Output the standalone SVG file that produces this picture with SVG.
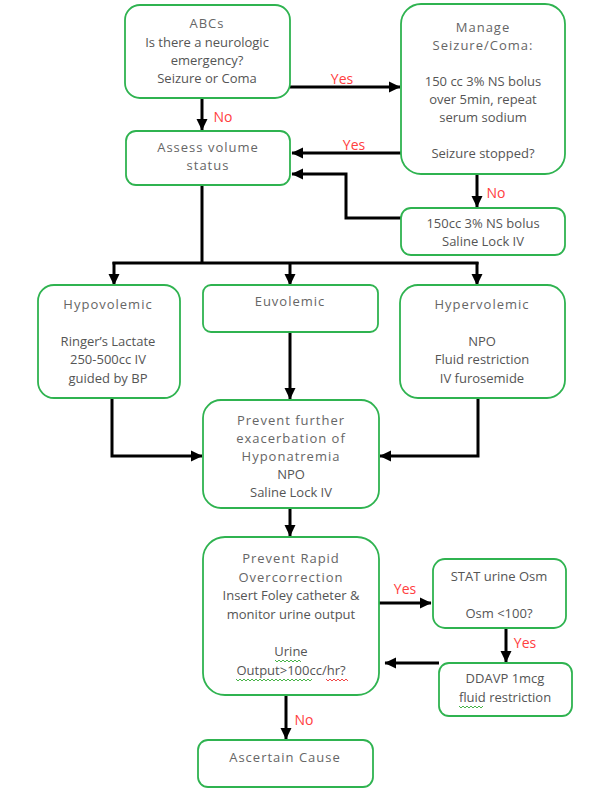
<svg xmlns="http://www.w3.org/2000/svg" width="600" height="792" viewBox="0 0 600 792">
<defs>
<marker id="ah" markerUnits="userSpaceOnUse" markerWidth="12" markerHeight="12" viewBox="0 0 12 12" refX="11" refY="6" orient="auto">
<path d="M0,0.5 L11.5,6 L0,11.5 Z" fill="#000"/>
</marker>
<style>
.box{fill:#fff;stroke:#2fb350;stroke-width:1.8}
.t{font-family:"Open Sans","DejaVu Sans",sans-serif;font-size:13px;fill:#555;text-anchor:middle}
.h{letter-spacing:1px;fill:#666}
.lbl{font-family:"Open Sans","DejaVu Sans",sans-serif;font-size:14px;fill:#ff4040;text-anchor:middle}
.c{fill:none;stroke:#000;stroke-width:3;marker-end:url(#ah)}
.sq{fill:none;stroke-width:0.9}
</style>
</defs>
<rect width="600" height="792" fill="#fff"/>

<g id="connectors">
<path class="c" d="M290,87 H400"/>
<path class="c" d="M202,98 V130"/>
<path class="c" d="M401,153 H292"/>
<path class="c" d="M477,174 V207"/>
<path class="c" d="M401,218 H346 V174 H292"/>
<path d="M202,185 V263" fill="none" stroke="#000" stroke-width="3"/>
<path d="M112.5,263 H478.5" fill="none" stroke="#000" stroke-width="3"/>
<path class="c" d="M114,262 V285"/>
<path class="c" d="M290,262 V285"/>
<path class="c" d="M477,262 V285"/>
<path class="c" d="M112,398 V456 H202"/>
<path class="c" d="M290,332 V399"/>
<path class="c" d="M478,398 V456 H380"/>
<path class="c" d="M290,508 V536"/>
<path class="c" d="M379,603 H431"/>
<path class="c" d="M506,628 V662"/>
<path class="c" d="M439,663 H385"/>
<path class="c" d="M286,695 V739"/>
<text class="lbl" x="342" y="84">Yes</text>
<text class="lbl" x="223" y="122">No</text>
<text class="lbl" x="354" y="150">Yes</text>
<text class="lbl" x="496" y="198">No</text>
<text class="lbl" x="405" y="594">Yes</text>
<text class="lbl" x="525" y="648">Yes</text>
<text class="lbl" x="304" y="725">No</text>
</g>

<g id="abcs">
<rect class="box" x="125" y="5" width="165" height="93" rx="15"/>
<text class="t h" x="207" y="28">ABCs</text>
<text class="t" x="207" y="47">Is there a neurologic</text>
<text class="t" x="207" y="65">emergency?</text>
<text class="t" x="207" y="83">Seizure or Coma</text>
</g>

<g id="manage">
<rect class="box" x="401" y="4" width="164" height="170" rx="20"/>
<text class="t h" x="483" y="32">Manage</text>
<text class="t h" x="483" y="50">Seizure/Coma:</text>
<text class="t" x="483" y="86">150 cc 3% NS bolus</text>
<text class="t" x="483" y="104">over 5min, repeat</text>
<text class="t" x="483" y="122">serum sodium</text>
<text class="t" x="483" y="158">Seizure stopped?</text>
</g>

<g id="assess">
<rect class="box" x="126" y="131" width="164" height="54" rx="10"/>
<text class="t h" x="208" y="152">Assess volume</text>
<text class="t h" x="208" y="170">status</text>
</g>

<g id="bolus">
<rect class="box" x="401" y="208" width="164" height="47" rx="10"/>
<text class="t" x="483" y="228">150cc 3% NS bolus</text>
<text class="t" x="483" y="246">Saline Lock IV</text>
</g>

<g id="hypovolemic">
<rect class="box" x="38" y="285" width="142" height="113" rx="16"/>
<text class="t h" x="108" y="309">Hypovolemic</text>
<text class="t" x="108" y="346">Ringer’s Lactate</text>
<text class="t" x="108" y="364">250-500cc IV</text>
<text class="t" x="108" y="383">guided by BP</text>
</g>

<g id="euvolemic">
<rect class="box" x="203" y="285" width="175" height="47" rx="8"/>
<text class="t h" x="290" y="306">Euvolemic</text>
</g>

<g id="hypervolemic">
<rect class="box" x="400" y="285" width="165" height="113" rx="18"/>
<text class="t h" x="482" y="309">Hypervolemic</text>
<text class="t" x="482" y="346">NPO</text>
<text class="t" x="482" y="364">Fluid restriction</text>
<text class="t" x="482" y="383">IV furosemide</text>
</g>

<g id="prevent">
<rect class="box" x="203" y="400" width="176" height="108" rx="18"/>
<text class="t h" x="291" y="425">Prevent further</text>
<text class="t h" x="291" y="443">exacerbation of</text>
<text class="t h" x="291" y="461">Hyponatremia</text>
<text class="t" x="291" y="479">NPO</text>
<text class="t" x="291" y="497">Saline Lock IV</text>
</g>

<g id="rapid">
<rect class="box" x="203" y="537" width="176" height="158" rx="22"/>
<text class="t h" x="291" y="563">Prevent Rapid</text>
<text class="t h" x="291" y="582">Overcorrection</text>
<text class="t" x="291" y="600">Insert Foley catheter &amp;</text>
<text class="t" x="291" y="619">monitor urine output</text>
<text class="t" x="291" y="656">Urine</text>
<text class="t" x="291" y="675">Output&gt;100cc/hr?</text>
<path class="sq" stroke="#3a3" d="M275,660 l2,2 l2,-2 l2,2 l2,-2 l2,2 l2,-2 l2,2 l2,-2 l2,2 l2,-2 l2,2 l2,-2 l2,2"/>
<path class="sq" stroke="#3a3" d="M236,679 l2,2 l2,-2 l2,2 l2,-2 l2,2 l2,-2 l2,2 l2,-2 l2,2 l2,-2 l2,2 l2,-2 l2,2 l2,-2 l2,2 l2,-2 l2,2 l2,-2 l2,2 l2,-2 l2,2 l2,-2 l2,2 l2,-2 l2,2 l2,-2 l2,2 l2,-2 l2,2 l2,-2 l2,2 l2,-2 l2,2 l2,-2 l2,2 l2,-2 l2,2 l2,-2"/>
<path class="sq" stroke="#e33" d="M326,679 l2,2 l2,-2 l2,2 l2,-2 l2,2 l2,-2 l2,2 l2,-2 l2,2 l2,-2 l2,2"/>
</g>

<g id="stat">
<rect class="box" x="433" y="559" width="133" height="69" rx="12"/>
<text class="t" x="499" y="581">STAT urine Osm</text>
<text class="t" x="499" y="618">Osm &lt;100?</text>
</g>

<g id="ddavp">
<rect class="box" x="439" y="663" width="133" height="53" rx="10"/>
<text class="t" x="505" y="683">DDAVP 1mcg</text>
<text class="t" x="505" y="702">fluid restriction</text>
<path class="sq" stroke="#3a3" d="M459,706 l2,2 l2,-2 l2,2 l2,-2 l2,2 l2,-2 l2,2 l2,-2 l2,2 l2,-2 l2,2 l2,-2"/>
</g>

<g id="ascertain">
<rect class="box" x="198" y="740" width="175" height="47" rx="10"/>
<text class="t h" x="285" y="762">Ascertain Cause</text>
</g>
</svg>
